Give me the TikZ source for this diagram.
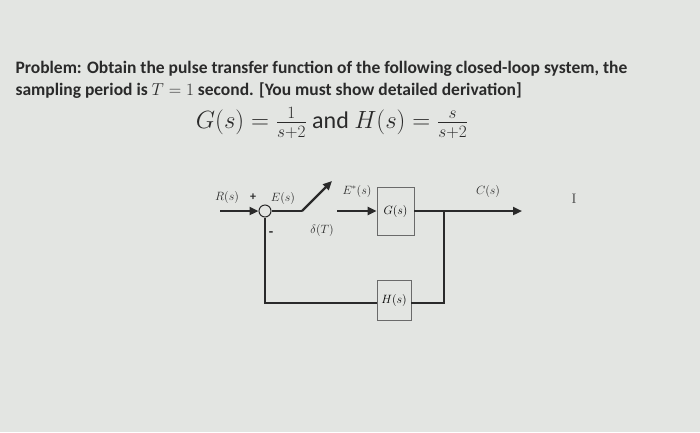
\documentclass[tikz,border=0pt]{standalone}
\usepackage{fontspec}
\setmainfont{Carlito}
\newfontfamily\tnr{Liberation Serif}
\usetikzlibrary{arrows.meta}
\definecolor{bg}{HTML}{E3E5E2}
\definecolor{ink}{HTML}{2A2A2A}
\begin{document}
\begin{tikzpicture}[x=1pt,y=-1pt,
  wire/.style={line width=2.2pt,draw=ink},
  arr/.style={wire,-{Triangle[length=9pt,width=8pt]}},
  blk/.style={draw=ink!70,line width=0.6pt,fill=bg,minimum width=37pt,minimum height=48pt,inner sep=0pt,font=\tnr\itshape\large},
  lbl/.style={font=\tnr\itshape\large,text=ink}]
\fill[bg] (0,0) rectangle (700,432);
\useasboundingbox (0,0) rectangle (700,432);
\node[anchor=base west,font=\bfseries\fontsize{17.5}{20}\selectfont,text=ink] (t1) at (12,73) {Problem: Obtain the pulse transfer function of the following closed-loop system, the};
\node[anchor=base west,font=\bfseries\fontsize{17.5}{20}\selectfont,text=ink] (t2) at (12,95) {sampling period is $T=1$ second. [You must show detailed derivation]};
\node[font=\fontsize{24}{28}\selectfont,text=ink] (eq) at (332,123) {$G(s)=\frac{1}{s+2}$ and $H(s)=\frac{s}{s+2}$};
% blocks
\node[blk] (G) at (395.5,211) {$G(s)$};
\node[blk,minimum width=34pt,minimum height=40pt] (H) at (394,300) {$H(s)$};
\node[draw=ink,line width=1pt,circle,minimum size=12pt,inner sep=0pt,fill=bg] (S) at (265,211) {};
\coordinate (r0) at (220,211);
\coordinate (sw1) at (302,211);
\coordinate (sw2) at (332,181);
\coordinate (e0) at (337,211);
\coordinate (br) at (444,211);
\coordinate (out) at (522,211);
\coordinate (bb) at (444,303);
\coordinate (fl) at (265,303);
\draw[arr] (r0) -- (S.west);
\draw[wire] (S.east) -- (sw1);
\draw[arr] (sw1) -- (sw2);
\draw[arr] (e0) -- (G.west);
\draw[arr] (G.east) -- (out);
\draw[wire] (br) -- (bb) -- (H.east |- bb);
\draw[wire] (H.west |- fl) -- (fl) -- (S.south);
\node[lbl] (lr) at (227,197) {$R(s)$};
\node[font=\large\bfseries,text=ink] (lp) at (253,197) {+};
\node[lbl] (le) at (283,198) {$E(s)$};
\node[lbl] (ld) at (322,230) {$\delta(T)$};
\node[font=\Large\bfseries,text=ink] (lm) at (271,234) {-};
\node[lbl] (les) at (357,191) {$E^{*}(s)$};
\node[lbl] (lc) at (488,191) {$C(s)$};
\node[font=\tnr\Large,text=ink!80] (cur) at (574,199) {I};
\end{tikzpicture}
\end{document}
